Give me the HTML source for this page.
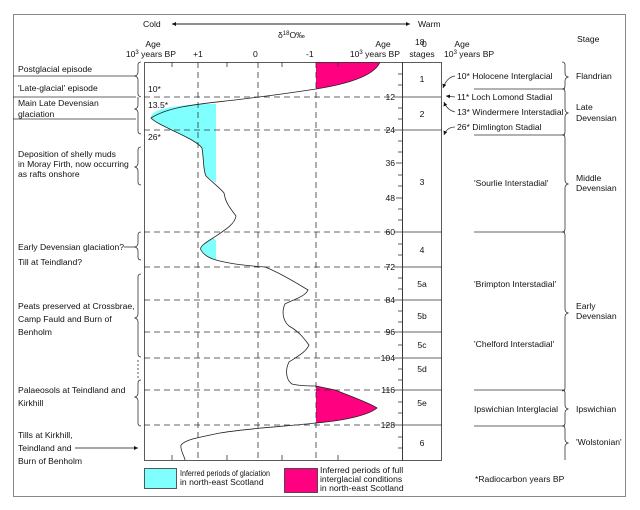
<!DOCTYPE html>
<html><head><meta charset="utf-8"><style>
html,body{margin:0;padding:0;background:#fff;}
svg{display:block;font-family:"Liberation Sans",sans-serif;}
text{font-size:8.6px;fill:#111;}
</style></head><body>
<svg width="640" height="510" viewBox="0 0 640 510" xmlns="http://www.w3.org/2000/svg">
<defs><marker id="ah" markerWidth="6" markerHeight="6" refX="5" refY="3" orient="auto"><path d="M0,0.5 L5,3 L0,5.5z" fill="#111"/></marker></defs>
<rect x="13.5" y="14.5" width="612" height="482" fill="#fff" stroke="#888" stroke-width="1"/>
<text x="143" y="27">Cold</text>
<line x1="410" y1="24" x2="172" y2="24" stroke="#111" stroke-width="0.8" marker-end="url(#ah)"/>
<line x1="172" y1="24" x2="410" y2="24" stroke="#111" stroke-width="0.8" marker-end="url(#ah)"/>
<text x="418" y="27">Warm</text>
<text x="278" y="38">δ<tspan font-size="6" dy="-3">18</tspan><tspan dy="3">O‰</tspan></text>
<text x="153" y="47" text-anchor="middle">Age</text>
<text x="176" y="57" text-anchor="end">10<tspan font-size="6" dy="-3">3</tspan><tspan dy="3"> years BP</tspan></text>
<text x="193" y="57">+1</text><text x="253" y="57">0</text><text x="306" y="57">-1</text>
<text x="383" y="47" text-anchor="middle">Age</text>
<text x="400" y="57" text-anchor="end">10<tspan font-size="6" dy="-3">3</tspan><tspan dy="3"> years BP</tspan></text>
<text x="415" y="45" font-size="6">18</text><text x="422" y="47">0</text>
<text x="422" y="57" text-anchor="middle">stages</text>
<text x="462" y="47" text-anchor="middle">Age</text>
<text x="444" y="57">10<tspan font-size="6" dy="-3">3</tspan><tspan dy="3"> years BP</tspan></text>
<text x="577" y="42">Stage</text>

<path d="M316,62 L380,62 C376,72 360,82 316,89 Z" fill="#ff0080"/>
<path d="M216,104 L200,104 C170,106 150,110 151,118 C158,126 195,138 202,148 C204,160 203,170 206,176 L216,183 Z" fill="#80ffff"/>
<path d="M216,240 L213,238 C205,243 199,247 201,250 C204,256 212,259 216,260 Z" fill="#80ffff"/>
<path d="M316,386 L335,390 C350,396 370,403 377,408 C370,414 350,420 316,423 Z" fill="#ff0080"/>
<path d="M380,62 C376,72 360,82 316,89 C290,93 260,97 235,100 C200,104 170,106 151,118 C158,126 195,138 202,148 C204,160 203,170 206,176 C212,182 220,188 224,193 C226,205 232,210 236,216 C235,224 225,230 213,238 C205,243 199,247 201,250 C204,256 212,259 216,260 C230,264 250,266 265,267 C278,272 295,282 308,290 C305,297 292,300 285,304 C282,310 282,320 289,326 C300,332 305,340 309,345 C306,352 298,356 289,362 C285,370 286,380 292,384 C300,386 310,386 316,386 L335,390 C350,396 370,403 377,408 C370,414 350,420 316,423 C290,426 250,428 220,433 C195,438 185,440 181,445 C180,450 184,455 185,460" fill="none" stroke="#222" stroke-width="0.8"/>

<g stroke="#333" stroke-width="0.8" fill="none">
<rect x="144.5" y="62.5" width="258" height="398"/>
<rect x="402.5" y="62.5" width="39" height="398"/>
</g>
<g stroke="#333" stroke-width="0.8" stroke-dasharray="6,4" fill="none">
<line x1="198" y1="62" x2="198" y2="460"/>
<line x1="258" y1="62" x2="258" y2="460"/>
<line x1="316" y1="62" x2="316" y2="460"/>
<line x1="144" y1="97" x2="396" y2="97"/>
<line x1="144" y1="130" x2="396" y2="130"/>
<line x1="144" y1="232" x2="396" y2="232"/>
<line x1="144" y1="267" x2="396" y2="267"/>
<line x1="144" y1="300" x2="396" y2="300"/>
<line x1="144" y1="332" x2="396" y2="332"/>
<line x1="144" y1="358" x2="396" y2="358"/>
<line x1="144" y1="390" x2="396" y2="390"/>
<line x1="144" y1="425" x2="396" y2="425"/>
</g>
<g stroke="#333" stroke-width="0.8">
<line x1="396" y1="97" x2="442" y2="97"/><line x1="396" y1="130" x2="442" y2="130"/>
<line x1="396" y1="232" x2="442" y2="232"/><line x1="396" y1="267" x2="442" y2="267"/>
<line x1="396" y1="300" x2="442" y2="300"/><line x1="396" y1="332" x2="442" y2="332"/>
<line x1="396" y1="358" x2="442" y2="358"/><line x1="396" y1="390" x2="442" y2="390"/>
<line x1="396" y1="425" x2="442" y2="425"/>
<line x1="172" y1="62" x2="172" y2="67"/><line x1="227" y1="62" x2="227" y2="67"/><line x1="282" y1="62" x2="282" y2="67"/><line x1="338" y1="62" x2="338" y2="67"/>
<line x1="172" y1="455" x2="172" y2="460"/><line x1="227" y1="455" x2="227" y2="460"/><line x1="282" y1="455" x2="282" y2="460"/><line x1="338" y1="455" x2="338" y2="460"/>
<line x1="398" y1="74" x2="402" y2="74"/><line x1="398" y1="85" x2="402" y2="85"/><line x1="398" y1="108" x2="402" y2="108"/><line x1="398" y1="119" x2="402" y2="119"/>
<line x1="398" y1="141" x2="402" y2="141"/><line x1="398" y1="152" x2="402" y2="152"/><line x1="396" y1="163" x2="402" y2="163"/><line x1="398" y1="175" x2="402" y2="175"/><line x1="398" y1="186" x2="402" y2="186"/><line x1="396" y1="198" x2="402" y2="198"/><line x1="398" y1="209" x2="402" y2="209"/><line x1="398" y1="220" x2="402" y2="220"/>
<line x1="398" y1="244" x2="402" y2="244"/><line x1="398" y1="255" x2="402" y2="255"/><line x1="398" y1="278" x2="402" y2="278"/><line x1="398" y1="289" x2="402" y2="289"/><line x1="398" y1="311" x2="402" y2="311"/><line x1="398" y1="322" x2="402" y2="322"/><line x1="398" y1="345" x2="402" y2="345"/><line x1="398" y1="369" x2="402" y2="369"/><line x1="398" y1="380" x2="402" y2="380"/><line x1="398" y1="402" x2="402" y2="402"/><line x1="398" y1="413" x2="402" y2="413"/><line x1="398" y1="437" x2="402" y2="437"/><line x1="398" y1="448" x2="402" y2="448"/>
</g>
<g text-anchor="end">
<text x="395" y="100">12</text><text x="395" y="133">24</text><text x="395" y="166">36</text><text x="395" y="201">48</text><text x="395" y="235">60</text><text x="395" y="270">72</text><text x="395" y="303">84</text><text x="395" y="335">96</text><text x="395" y="361">104</text><text x="395" y="393">116</text><text x="395" y="428">128</text>
</g>
<g text-anchor="middle">
<text x="422" y="82">1</text><text x="422" y="117">2</text><text x="422" y="185">3</text><text x="422" y="253">4</text><text x="422" y="287">5a</text><text x="422" y="319">5b</text><text x="422" y="348">5c</text><text x="422" y="372">5d</text><text x="422" y="406">5e</text><text x="422" y="446">6</text>
</g>
<text x="148" y="92">10*</text><text x="148" y="108">13.5*</text><text x="148" y="140">26*</text>

<g stroke="#333" stroke-width="0.8" fill="none">
<line x1="13" y1="76" x2="136" y2="76"/><line x1="13" y1="97" x2="136" y2="97"/><line x1="13" y1="119" x2="136" y2="119"/>
<path d="M141,62 q-3,0 -3,3 v7 q0,3 -3,4 q3,1 3,4 v14 q0,2 3,3"/>
<path d="M138,97 v8 q0,3 -3,4 q3,1 3,4 v18 q0,3 3,3"/>
<path d="M141,147 q-3,0 -3,3 v13 q0,3 -3,4 q3,1 3,4 v11 q0,3 3,3"/>
<path d="M141,232 q-3,0 -3,3 v8 q0,3 -3,4 q3,1 3,4 v6 q0,3 3,3"/>
<line x1="124" y1="247" x2="135" y2="247"/>
<path d="M141,274 q-3,0 -3,3 v37 q0,3 -3,4 q3,1 3,4 v32 q0,3 3,3"/>
<line x1="138" y1="360" x2="138" y2="380" stroke-dasharray="2,2"/>
<path d="M141,380 q-3,0 -3,3 v10 q0,3 -3,4 q3,1 3,4 v22 q0,3 3,3"/>
</g>
<line x1="75" y1="448" x2="138" y2="448" stroke="#111" stroke-width="0.8" marker-end="url(#ah)"/>
<text x="18" y="72">Postglacial episode</text>
<text x="18" y="91">'Late-glacial' episode</text>
<text x="18" y="106">Main Late Devensian</text><text x="18" y="117">glaciation</text>
<text x="18" y="157">Deposition of shelly muds</text><text x="18" y="167">in Moray Firth, now occurring</text><text x="18" y="177">as rafts onshore</text>
<text x="18" y="250">Early Devensian glaciation?</text>
<text x="18" y="265">Till at Teindland?</text>
<text x="18" y="309">Peats preserved at Crossbrae,</text><text x="18" y="322">Camp Fauld and Burn of</text><text x="18" y="335">Benholm</text>
<text x="18" y="393">Palaeosols at Teindland and</text><text x="18" y="406">Kirkhill</text>
<text x="18" y="438">Tills at Kirkhill,</text><text x="18" y="451">Teindland and</text><text x="18" y="464">Burn of Benholm</text>

<g stroke="#333" stroke-width="0.8" fill="none">
<path d="M455,76 q-8,1 -12,12" marker-end="url(#ah)"/>
<path d="M455,97 l-9,-1" marker-end="url(#ah)"/>
<path d="M455,112 q-8,-2 -11,-10" marker-end="url(#ah)"/>
<path d="M455,127 q-8,0 -11,8" marker-end="url(#ah)"/>
<line x1="474" y1="89" x2="565" y2="89"/><line x1="474" y1="135" x2="565" y2="135"/>
<line x1="474" y1="232" x2="565" y2="232"/><line x1="474" y1="390" x2="565" y2="390"/><line x1="474" y1="426" x2="565" y2="426"/>
<path d="M562,62 q3,0 3,3 v8 q0,3 3,4 q-3,1 -3,4 v5 q0,3 -3,3"/>
<path d="M562,89 q3,0 3,3 v17 q0,3 3,4 q-3,1 -3,4 v15 q0,3 -3,3"/>
<path d="M562,135 q3,0 3,3 v42 q0,3 3,4 q-3,1 -3,4 v41 q0,3 -3,3"/>
<path d="M562,232 q3,0 3,3 v74 q0,3 3,4 q-3,1 -3,4 v71 q0,3 -3,3"/>
<path d="M562,390 q3,0 3,3 v12 q0,3 3,4 q-3,1 -3,4 v10 q0,3 -3,3"/>
<path d="M562,426 q3,0 3,3 v10 q0,3 3,4 q-3,1 -3,4 v13"/>
</g>
<text x="457" y="79">10*  Holocene Interglacial</text>
<text x="457" y="100">11*  Loch Lomond Stadial</text>
<text x="457" y="115">13*  Windermere Interstadial</text>
<text x="457" y="130">26*  Dimlington Stadial</text>
<text x="474" y="186">'Sourlie Interstadial'</text>
<text x="474" y="287">'Brimpton Interstadial'</text>
<text x="474" y="347">'Chelford Interstadial'</text>
<text x="474" y="412">Ipswichian Interglacial</text>
<text x="576" y="79">Flandrian</text>
<text x="576" y="110">Late</text><text x="576" y="121">Devensian</text>
<text x="576" y="181">Middle</text><text x="576" y="191">Devensian</text>
<text x="576" y="309">Early</text><text x="576" y="319">Devensian</text>
<text x="576" y="412">Ipswichian</text>
<text x="576" y="445">'Wolstonian'</text>

<rect x="144.5" y="468.5" width="32" height="20" fill="#80ffff" stroke="#333" stroke-width="0.8"/>
<text x="180" y="476" font-size="6.8" textLength="90" lengthAdjust="spacingAndGlyphs">Inferred periods of glaciation</text>
<text x="180" y="485" font-size="6.8">in north-east Scotland</text>
<rect x="284.5" y="468.5" width="33" height="24" fill="#ff0080" stroke="#333" stroke-width="0.8"/>
<text x="320" y="473" font-size="6.8">Inferred periods of full</text>
<text x="320" y="482" font-size="6.8">interglacial conditions</text>
<text x="320" y="491" font-size="6.8">in north-east Scotland</text>
<text x="475" y="482" font-size="7">*Radiocarbon years BP</text>
</svg>
</body></html>
